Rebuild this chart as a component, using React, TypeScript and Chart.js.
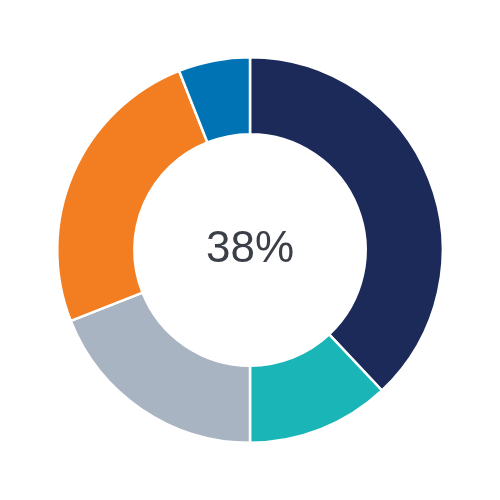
import { useEffect, useRef } from "react"
import { Chart, type ChartConfiguration, type Plugin, registerables } from "chart.js"

Chart.register(...registerables)

const labels = ["Navy", "Teal", "Gray", "Orange", "Blue"]
const values = [38, 12, 19, 25, 6]
const colors = ["#1c2a5a", "#1ab5b6", "#a9b4c2", "#f37d21", "#0073b5"]
const centerLabel = "38%"

const centerText: Plugin<"doughnut"> = {
  id: "centerText",
  afterDraw(chart) {
    const { ctx, chartArea } = chart
    const cx = (chartArea.left + chartArea.right) / 2
    const cy = (chartArea.top + chartArea.bottom) / 2
    ctx.save()
    ctx.font = "44px 'Liberation Sans', Arial, sans-serif"
    ctx.fillStyle = "#3b3f47"
    ctx.textAlign = "center"
    ctx.textBaseline = "middle"
    ctx.fillText(centerLabel, cx, cy)
    ctx.restore()
  },
}

export default function App() {
  const canvasRef = useRef<HTMLCanvasElement>(null)
  const chartRef = useRef<Chart<"doughnut"> | null>(null)

  useEffect(() => {
    if (!canvasRef.current) return
    if (chartRef.current) chartRef.current.destroy()

    const config: ChartConfiguration<"doughnut"> = {
      type: "doughnut",
      data: {
        labels,
        datasets: [
          {
            data: values,
            backgroundColor: colors,
            borderColor: "#ffffff",
            borderWidth: 2.5,
          },
        ],
      },
      options: {
        animation: false,
        responsive: true,
        maintainAspectRatio: false,
        cutout: "60%",
        layout: { padding: 56 },
        plugins: {
          legend: { display: false },
          tooltip: { enabled: false },
        },
      },
      plugins: [centerText],
    }

    chartRef.current = new Chart(canvasRef.current, config)

    return () => {
      if (chartRef.current) {
        chartRef.current.destroy()
        chartRef.current = null
      }
    }
  }, [])

  return (
    <div style={{ position: "absolute", left: 0, top: 0, width: 500, height: 500, background: "#fff" }}>
      <canvas ref={canvasRef}></canvas>
    </div>
  )
}
